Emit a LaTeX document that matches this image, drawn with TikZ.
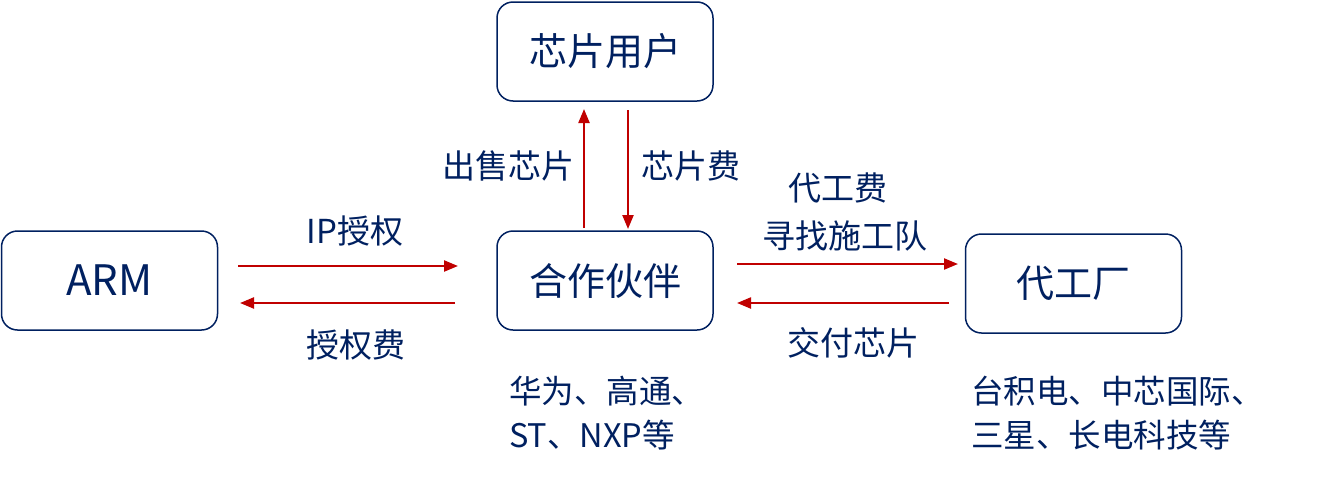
\documentclass[tikz,border=0pt]{standalone}
\usepackage{fontspec}
\setmainfont{Noto Sans CJK SC}
\usetikzlibrary{arrows.meta}
\definecolor{navy}{HTML}{002060}
\definecolor{darkred}{HTML}{C00000}
\begin{document}
\begin{tikzpicture}[x=1pt,y=-1pt,
  box/.style={draw=navy,line width=1.5pt,rounded corners=16pt,minimum width=216pt,minimum height=99pt,text=navy,font=\fontsize{38}{40}\selectfont},
  lbl/.style={text=navy,font=\fontsize{33}{36}\selectfont,inner sep=0pt},
  lst/.style={text=navy,font=\fontsize{32.5}{44}\selectfont,inner sep=0pt,align=left,anchor=north west},
  arr/.style={draw=darkred,line width=2.2pt,-{Triangle[length=14pt,width=11pt]}}]
\useasboundingbox (0,0) rectangle (1328,477);
\node[box,font=\fontsize{42}{44}\selectfont] (arm) at (109.5,280.5) {ARM};
\node[box] (user) at (605,51.5) {芯片用户};
\node[box] (partner) at (605,280.5) {合作伙伴};
\node[box] (fab) at (1073.5,283.5) {代工厂};
\coordinate (a1) at (238,266); \coordinate (a2) at (458,266);
\coordinate (b1) at (455,303); \coordinate (b2) at (240,303);
\coordinate (c1) at (584,228); \coordinate (c2) at (584,109);
\coordinate (d1) at (628,110); \coordinate (d2) at (628,229);
\coordinate (e1) at (737,264); \coordinate (e2) at (958,264);
\coordinate (f1) at (949,303); \coordinate (f2) at (737,303);
\draw[arr] (a1) -- (a2);
\draw[arr] (b1) -- (b2);
\draw[arr] (c1) -- (c2);
\draw[arr] (d1) -- (d2);
\draw[arr] (e1) -- (e2);
\draw[arr] (f1) -- (f2);
\node[lbl] (l1) at (355,231) {IP授权};
\node[lbl] (l2) at (356,345) {授权费};
\node[lbl] (l3) at (508,166) {出售芯片};
\node[lbl] (l4) at (691,166) {芯片费};
\node[lbl] (l5) at (838,188) {代工费};
\node[lbl] (l6) at (845,236) {寻找施工队};
\node[lbl] (l7) at (853,343) {交付芯片};
\node[lst] (p) at (509,376) {华为、高通、\\ST、NXP等};
\node[lst] (q) at (971,376) {台积电、中芯国际、\\三星、长电科技等};
\end{tikzpicture}
\end{document}
